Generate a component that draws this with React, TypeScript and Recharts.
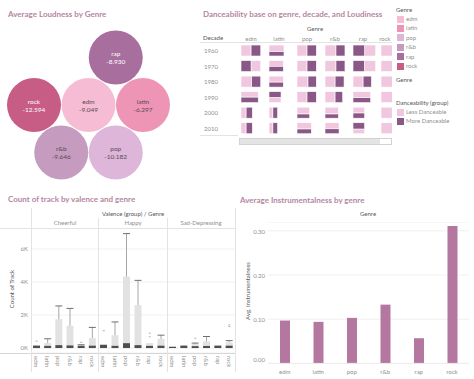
import React from 'react';
import {
  ScatterChart,
  Scatter,
  ComposedChart,
  BarChart,
  Bar,
  Line,
  XAxis,
  YAxis,
  CartesianGrid,
} from 'recharts';

const FONT = 'Lato, "Open Sans", sans-serif';
const TITLE_COLOR = '#b5879f';
const LABEL = '#8f8f8f';
const HEADER = '#555';

const genres = ['edm', 'latin', 'pop', 'r&b', 'rap', 'rock'];
const genreColors = ['#f5bcd4', '#ee94b4', '#ddb6d9', '#c69bc0', '#a86e9e', '#c75d85'];

// Average Loudness by Genre
const avgLoudness = [-9.049, -6.297, -10.182, -9.646, -8.93, -12.594];
// packed bubble slots on a hex grid (column, row)
const packCol = [1, 2, 1.5, 0.5, 1.5, 0];
const packRow = [1, 1, 2, 2, 0, 1];

// Danceability by genre / decade (rows follow genres, columns follow decades)
const decades = ['1960', '1970', '1980', '1990', '2000', '2010'];
const moreDanceShare = [
  [0.49, 0.51, 0.46, 0.5, 0.55, 0.55],
  [0.4, 0.47, 0.45, 0.52, 0.55, 0.55],
  [0.48, 0.48, 0.43, 0.48, 0.38, 0.43],
  [0.45, 0.45, 0.47, 0.43, 0.38, 0.45],
  [0.51, 0.5, 0.45, 0.45, 0.47, 0.57],
  [0.3, 0.3, 0.3, 0.3, 0.12, 0.3],
];
const cellSize = [
  [0.87, 0.87, 0.87, 0.76, 0.5, 0.5],
  [0.66, 0.63, 0.63, 0.53, 0.38, 0.38],
  [0.85, 0.85, 0.85, 0.85, 0.56, 0.63],
  [0.88, 0.88, 0.84, 0.78, 0.59, 0.62],
  [1, 1, 0.81, 0.78, 0.51, 0.51],
  [0.8, 0.8, 0.8, 0.8, 0.52, 0.8],
];
// lr: less left, rl: more left, tb: less on top, bt: more on top
const cellSplit = [
  ['lr', 'rl', 'lr', 'tb', 'lr', 'lr'],
  ['tb', 'tb', 'tb', 'bt', 'lr', 'lr'],
  ['lr', 'lr', 'lr', 'lr', 'tb', 'tb'],
  ['lr', 'lr', 'lr', 'lr', 'tb', 'tb'],
  ['rl', 'rl', 'lr', 'tb', 'tb', 'bt'],
  ['lr', 'lr', 'lr', 'lr', 'lr', 'lr'],
];

// Count of track by valence and genre (box plots)
const valenceGroups = ['Cheerful', 'Happy', 'Sad-Depressing'];
const trackLow = [
  [150, 150, 180, 170, 140, 160],
  [200, 150, 300, 180, 150, 160],
  [80, 150, 120, 140, 150, 160],
];
const trackQ3 = [
  [150, 300, 1750, 1350, 150, 600],
  [200, 780, 4330, 2600, 300, 560],
  [80, 150, 250, 400, 150, 350],
];
const trackMax = [
  [180, 560, 2550, 2400, 200, 1250],
  [200, 1580, 6930, 4100, 300, 780],
  [80, 160, 300, 700, 160, 450],
];
const trackOutliers = [
  [[420], [], [], [], [350], []],
  [[1050], [], [], [], [680, 900], []],
  [[], [], [600], [], [], [1300, 1400]],
];

// Average Instrumentalness by genre
const avgInstrumentalness = [0.097, 0.094, 0.103, 0.133, 0.057, 0.311];

const LESS = '#f1c7df';
const MORE = '#8a5886';

type TProps = {
  x: number;
  y: number;
  children: React.ReactNode;
  size?: number;
  color?: string;
  anchor?: 'start' | 'middle' | 'end';
  weight?: number;
  rotate?: boolean;
};

const T = ({ x, y, children, size = 6, color = LABEL, anchor = 'start', weight = 400, rotate }: TProps) => {
  const tx = anchor === 'middle' ? '-50%' : anchor === 'end' ? '-100%' : '0';
  return (
    <div
      style={{
        position: 'absolute',
        left: x,
        top: y,
        transform: rotate ? 'translate(-50%,-50%) rotate(-90deg)' : `translate(${tx},-50%)`,
        fontSize: size,
        fontWeight: weight,
        color,
        lineHeight: 1,
        whiteSpace: 'nowrap',
      }}
    >
      {children}
    </div>
  );
};

const Rule = ({ x, y, w, h, color = '#e3e3e3' }: { x: number; y: number; w: number; h: number; color?: string }) => (
  <div style={{ position: 'absolute', left: x, top: y, width: w, height: h, background: color }} />
);

const Bubble = (p: any) => {
  const { cx, cy, payload } = p;
  const light = payload.genre === 'rap' || payload.genre === 'rock';
  const c = light ? '#fff' : '#5a4a55';
  return (
    <g>
      <circle cx={cx} cy={cy} r={27} fill={payload.fill} />
      <text x={cx} y={cy - 3.5} textAnchor="middle" dominantBaseline="central" fontSize={6.5} fill={c}>
        {payload.genre}
      </text>
      <text x={cx} y={cy + 4.5} textAnchor="middle" dominantBaseline="central" fontSize={6.5} fill={c}>
        {payload.loud.toFixed(3)}
      </text>
    </g>
  );
};

const DanceCell = (p: any) => {
  const { cx, cy, payload } = p;
  const W = 22.7;
  const H = 11;
  const w = W * payload.size;
  const m = payload.more;
  const left = cx - 10;
  const top = cy - H / 2;
  let a: number[];
  let b: number[];
  if (payload.split === 'lr') {
    a = [left, top, w * (1 - m), H];
    b = [left + w * (1 - m), top, w * m, H];
  } else if (payload.split === 'rl') {
    b = [left, top, w * m, H];
    a = [left + w * m, top, w * (1 - m), H];
  } else if (payload.split === 'tb') {
    a = [left, top, w, H * (1 - m)];
    b = [left, top + H * (1 - m), w, H * m];
  } else {
    b = [left, top, w, H * m];
    a = [left, top + H * m, w, H * (1 - m)];
  }
  return (
    <g>
      <rect x={a[0]} y={a[1]} width={a[2]} height={a[3]} fill={LESS} stroke="#fff" strokeWidth={0.6} />
      <rect x={b[0]} y={b[1]} width={b[2]} height={b[3]} fill={MORE} stroke="#fff" strokeWidth={0.6} />
    </g>
  );
};

const Whisker = (p: any) => {
  const { x, y, width, height } = p;
  if (!height || height < 0.5) return <g />;
  const cx = x + width / 2;
  return (
    <g>
      <line x1={cx} x2={cx} y1={y} y2={y + height} stroke="#909090" strokeWidth={0.8} />
      <line x1={cx - 3.5} x2={cx + 3.5} y1={y} y2={y} stroke="#6f6f6f" strokeWidth={1} />
    </g>
  );
};

const OutlierDot = (p: any) => {
  const { cx, cy } = p;
  if (cy == null || isNaN(cy)) return <g key={p.key} />;
  return <rect key={p.key} x={cx - 1} y={cy - 0.5} width={2} height={1} fill="#b0b0b0" />;
};

const RotGenreTick = (p: any) => {
  const { x, y, payload } = p;
  return (
    <text
      x={x}
      y={y}
      transform={`rotate(90 ${x} ${y})`}
      textAnchor="start"
      dominantBaseline="central"
      fontSize={6}
      fill={LABEL}
    >
      {payload.value}
    </text>
  );
};

const ValencePane = ({ gi, width, withAxis }: { gi: number; width: number; withAxis: boolean }) => {
  const data = genres.map((g, i) => ({
    genre: g,
    dark: trackLow[gi][i],
    box: trackQ3[gi][i] - trackLow[gi][i],
    whisk: trackMax[gi][i] - trackQ3[gi][i],
    o1: trackOutliers[gi][i][0] ?? null,
    o2: trackOutliers[gi][i][1] ?? null,
  }));
  return (
    <ComposedChart width={width} height={147} data={data} margin={{ top: 0, right: 0, bottom: 0, left: 0 }}>
      <CartesianGrid vertical={false} stroke="#f0f0f0" />
      <XAxis
        dataKey="genre"
        interval={0}
        height={22}
        axisLine={false}
        tickLine={false}
        tickSize={0}
        tickMargin={3}
        tick={<RotGenreTick />}
      />
      <YAxis
        domain={[-300, 7270]}
        ticks={[0, 2000, 4000, 6000]}
        hide={!withAxis}
        width={31}
        axisLine={false}
        tickLine={false}
        tickSize={0}
        tickMargin={3}
        tick={{ fontSize: 6, fill: LABEL }}
        tickFormatter={(v: number) => `${v / 1000}K`}
      />
      <Bar dataKey="dark" stackId="b" fill="#4f4f4f" barSize={7} isAnimationActive={false} />
      <Bar dataKey="box" stackId="b" fill="#e2e2e2" barSize={7} isAnimationActive={false} />
      <Bar dataKey="whisk" stackId="b" barSize={7} shape={<Whisker />} isAnimationActive={false} />
      <Line dataKey="o1" stroke="none" dot={OutlierDot} activeDot={false} isAnimationActive={false} />
      <Line dataKey="o2" stroke="none" dot={OutlierDot} activeDot={false} isAnimationActive={false} />
    </ComposedChart>
  );
};

const InstTick = (p: any) => {
  const { x, y, payload } = p;
  return (
    <text x={x} y={payload.value === 0 ? y - 4 : y} textAnchor="end" dominantBaseline="central" fontSize={6} fill={LABEL}>
      {payload.value.toFixed(2)}
    </text>
  );
};

export default function App() {
  const bubbles = genres.map((g, i) => ({
    genre: g,
    loud: avgLoudness[i],
    col: packCol[i],
    row: packRow[i],
    fill: genreColors[i],
  }));

  const cells: any[] = [];
  genres.forEach((g, gi) =>
    decades.forEach((d, di) =>
      cells.push({
        genre: g,
        decade: d,
        more: moreDanceShare[gi][di],
        size: cellSize[gi][di],
        split: cellSplit[gi][di],
      })
    )
  );

  const instData = genres.map((g, i) => ({ genre: g, value: avgInstrumentalness[i] }));

  return (
    <div
      style={{
        position: 'absolute',
        left: 0,
        top: 0,
        width: 474,
        height: 379,
        background: '#fff',
        fontFamily: FONT,
        overflow: 'hidden',
      }}
    >
      {/* ---------- Average Loudness by Genre ---------- */}
      <T x={8} y={14} size={8} weight={700} color={TITLE_COLOR}>
        Average Loudness by Genre
      </T>
      <div style={{ position: 'absolute', left: 0, top: 0 }}>
        <ScatterChart width={200} height={190} margin={{ top: 0, right: 0, bottom: 0, left: 0 }}>
          <XAxis type="number" dataKey="col" domain={[-0.624, 3.046]} hide />
          <YAxis type="number" dataKey="row" domain={[-1.21, 2.79]} reversed hide />
          <Scatter data={bubbles} shape={<Bubble />} isAnimationActive={false} />
        </ScatterChart>
      </div>

      {/* ---------- Danceability grid ---------- */}
      <T x={203} y={14} size={8} weight={700} color={TITLE_COLOR}>
        Danceability base on genre, decade, and Loudiness
      </T>
      <T x={315} y={29} anchor="middle" color={HEADER}>
        Genre
      </T>
      <T x={203} y={38} color={HEADER}>
        Decade
      </T>
      <Rule x={200} y={42} w={192} h={1} />
      <Rule x={200} y={135} w={38} h={1} />
      <div style={{ position: 'absolute', left: 200, top: 0, width: 192, height: 137, overflow: 'hidden' }}>
        <ScatterChart width={205} height={136} margin={{ top: 32.75, right: 0, bottom: 0, left: 0 }}>
          <XAxis
            type="category"
            dataKey="genre"
            orientation="top"
            allowDuplicatedCategory={false}
            height={10}
            axisLine={false}
            tickLine={false}
            interval={0}
            tick={(p: any) => (
              <text
                x={Math.min(p.x, 185)}
                y={38}
                textAnchor="middle"
                dominantBaseline="central"
                fontSize={6}
                fill={LABEL}
              >
                {p.payload.value}
              </text>
            )}
          />
          <YAxis
            type="category"
            dataKey="decade"
            allowDuplicatedCategory={false}
            reversed
            width={37}
            axisLine={false}
            tickLine={false}
            interval={0}
            tick={(p: any) => (
              <text x={4} y={p.y} textAnchor="start" dominantBaseline="central" fontSize={6} fill={LABEL}>
                {p.payload.value}
              </text>
            )}
          />
          <Scatter data={cells} shape={<DanceCell />} isAnimationActive={false} />
        </ScatterChart>
      </div>
      <div
        style={{
          position: 'absolute',
          left: 239,
          top: 138,
          width: 151,
          height: 5,
          border: '1px solid #d2d2d2',
          background: '#fff',
        }}
      >
        <div style={{ width: 140, height: 5, background: '#e4e4e4' }} />
      </div>

      {/* legends */}
      <T x={396} y={10} color={HEADER}>
        Genre
      </T>
      {genres.map((g, i) => (
        <React.Fragment key={g}>
          <Rule x={397} y={15.5 + i * 9.4} w={7} h={7} color={genreColors[i]} />
          <T x={406} y={19 + i * 9.4}>
            {g}
          </T>
        </React.Fragment>
      ))}
      <T x={396} y={80} color={HEADER}>
        Genre
      </T>
      <T x={396} y={103} color={HEADER}>
        Danceability (group)
      </T>
      <Rule x={397} y={108.5} w={7} h={7} color={LESS} />
      <T x={406} y={112}>Less Danceable</T>
      <Rule x={397} y={117.5} w={7} h={7} color={MORE} />
      <T x={406} y={121}>More Danceable</T>

      {/* ---------- Count of track by valence and genre ---------- */}
      <T x={8} y={199} size={8} weight={700} color={TITLE_COLOR}>
        Count of track by valence and genre
      </T>
      <T x={133} y={214} anchor="middle" color={HEADER}>
        Valence (group) / Genre
      </T>
      {valenceGroups.map((v, i) => (
        <T key={v} x={[65, 133, 201][i]} y={223} anchor="middle">
          {v}
        </T>
      ))}
      <div style={{ position: 'absolute', left: 0, top: 228 }}>
        <ValencePane gi={0} width={98} withAxis />
      </div>
      <div style={{ position: 'absolute', left: 98, top: 228 }}>
        <ValencePane gi={1} width={69} withAxis={false} />
      </div>
      <div style={{ position: 'absolute', left: 167, top: 228 }}>
        <ValencePane gi={2} width={68} withAxis={false} />
      </div>
      <Rule x={0} y={228} w={236} h={1} />
      <Rule x={0} y={353} w={236} h={1} color="#d6d6d6" />
      <Rule x={31} y={208} w={1} h={164} />
      <Rule x={98} y={218} w={1} h={154} />
      <Rule x={167} y={218} w={1} h={154} />
      <Rule x={235} y={208} w={1} h={164} />
      <T x={12} y={289} rotate color={HEADER}>
        Count of Track
      </T>

      {/* ---------- Average Instrumentalness by genre ---------- */}
      <T x={240} y={200} size={8} weight={700} color={TITLE_COLOR}>
        Average Instrumentalness by genre
      </T>
      <T x={368} y={214} anchor="middle" color={HEADER}>
        Genre
      </T>
      <T x={248} y={291} rotate color={HEADER}>
        Avg. Instrumentalness
      </T>
      <div style={{ position: 'absolute', left: 237, top: 222 }}>
        <BarChart width={237} height={154} data={instData} margin={{ top: 0, right: 5, bottom: 0, left: 0 }}>
          <CartesianGrid vertical={false} stroke="#f0f0f0" />
          <XAxis
            dataKey="genre"
            interval={0}
            height={12.6}
            axisLine={{ stroke: '#ececec' }}
            tickLine={false}
            tickSize={0}
            tickMargin={6}
            tick={{ fontSize: 6, fill: LABEL }}
          />
          <YAxis
            domain={[0, 0.32]}
            ticks={[0, 0.05, 0.1, 0.15, 0.2, 0.25, 0.3]}
            width={31}
            axisLine={false}
            tickLine={false}
            tickSize={0}
            tickMargin={3}
            tick={<InstTick />}
          />
          <Bar dataKey="value" fill="#b4779f" barSize={10} isAnimationActive={false} />
        </BarChart>
      </div>
    </div>
  );
}
